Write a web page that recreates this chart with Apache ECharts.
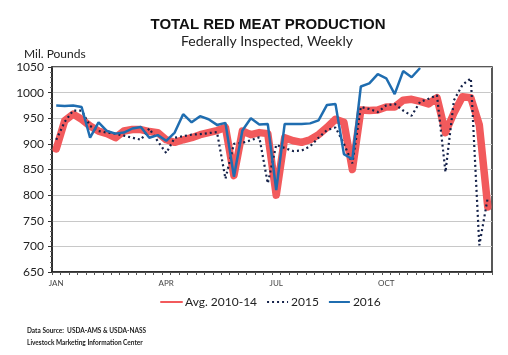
<!DOCTYPE html>
<html><head><meta charset="utf-8">
<script src="https://cdn.jsdelivr.net/npm/echarts@6/dist/echarts.min.js"></script>
<style>html,body{margin:0;padding:0;background:#fff}#c{width:508px;height:355px}</style>
</head><body><div id="c"></div>
<script>
var weeks = [];
for (var w = 1; w <= 52; w++) weeks.push(w);
var monthLabels = {1: 'JAN', 14: 'APR', 27: 'JUL', 40: 'OCT'};
var avg2010_14 = [890,945,958,948,935,925,920,912,925,928,928,924,922,908,903,908,912,918,922,926,932,838,925,918,922,920,800,912,906,903,908,918,932,948,942,850,966,965,966,972,972,985,987,983,978,990,922,960,992,990,937,777];
var y2015 = [908,943,965,965,935,925,922,920,916,912,908,930,905,882,912,915,918,919,921,923,832,900,902,907,913,823,898,892,886,887,895,912,927,932,900,862,972,968,962,975,978,965,955,982,988,995,845,985,1015,1028,702,795];
var y2016 = [975,974,975,972,912,942,925,920,922,930,933,912,917,906,922,958,942,954,948,937,941,836,926,950,938,939,810,939,939,939,940,946,976,978,880,870,1012,1018,1036,1028,997,1042,1030,1048,null,null,null,null,null,null,null,null];
var yTicks = {min: 650, max: 1050, step: 50};

var chart = echarts.init(document.getElementById('c'), null, {renderer: 'canvas'});
var f = 'Lato, "Open Sans", sans-serif';
chart.setOption({
  animation: false,
  backgroundColor: '#fff',
  title: [
    {text: 'TOTAL RED MEAT PRODUCTION', left: 263, top: 12, textAlign: 'center',
     textStyle: {fontFamily: '"Liberation Sans", Arial, sans-serif', fontWeight: 'bold', fontSize: 15, color: '#111'}},
    {text: 'Federally Inspected, Weekly', left: 262, top: 29, textAlign: 'center',
     textStyle: {fontFamily: f, fontWeight: 'normal', fontSize: 14, color: '#222'}},
    {text: 'Mil. Pounds', left: 19, top: 43,
     textStyle: {fontFamily: f, fontWeight: 'normal', fontSize: 12, color: '#222'}},
    {text: 'Data Source:  USDA-AMS & USDA-NASS', left: 22, top: 322,
     textStyle: {fontFamily: f, fontWeight: 'bold', fontSize: 6.5, color: '#222'}},
    {text: 'Livestock Marketing Information Center', left: 22, top: 334,
     textStyle: {fontFamily: f, fontWeight: 'bold', fontSize: 6.5, color: '#222'}}
  ],
  legend: {
    top: 291, left: 155, itemGap: 9, itemWidth: 21, itemHeight: 8,
    textStyle: {fontFamily: f, fontSize: 12, color: '#222', padding: [0, 0, 0, -2]},
    itemStyle: {opacity: 0},
    data: ['Avg. 2010-14', '2015', '2016']
  },
  grid: {left: 52, right: 16, top: 67, bottom: 83, show: true, borderColor: '#222', borderWidth: 1.5},
  xAxis: {
    type: 'category', data: weeks, boundaryGap: true,
    axisLine: {lineStyle: {color: '#222', width: 1.5}},
    axisTick: {show: true, interval: 0, length: 3, lineStyle: {color: '#555'}},
    axisLabel: {
      interval: 0, fontFamily: f, fontSize: 8, color: '#444', margin: 7,
      formatter: function (v) { return monthLabels[v] || ''; }
    }
  },
  yAxis: {
    type: 'value', min: yTicks.min, max: yTicks.max, interval: yTicks.step,
    axisLine: {show: true, lineStyle: {color: '#222', width: 1.5}},
    axisTick: {show: true, length: 4, lineStyle: {color: '#333'}},
    minorTick: {show: true, splitNumber: 5, length: 2, lineStyle: {color: '#666'}},
    splitLine: {lineStyle: {color: '#c8c8c8', width: 1}},
    axisLabel: {fontFamily: f, fontSize: 12, color: '#222', margin: 8,
      formatter: function (v) { return String(v); }}
  },
  series: [
    {name: 'Avg. 2010-14', type: 'line', data: avg2010_14, symbol: 'none', z: 1,
     lineStyle: {color: '#F25A5C', width: 7.5, join: 'round', cap: 'round'}, itemStyle: {color: '#F25A5C'}},
    {name: '2015', type: 'line', data: y2015, symbol: 'none', z: 2,
     lineStyle: {color: '#15224A', width: 2.2, type: [2, 3]}, itemStyle: {color: '#15224A'}},
    {name: '2016', type: 'line', data: y2016, symbol: 'none', z: 3,
     lineStyle: {color: '#1F6DB0', width: 2.5}, itemStyle: {color: '#1F6DB0'}}
  ]
});
</script></body></html>
